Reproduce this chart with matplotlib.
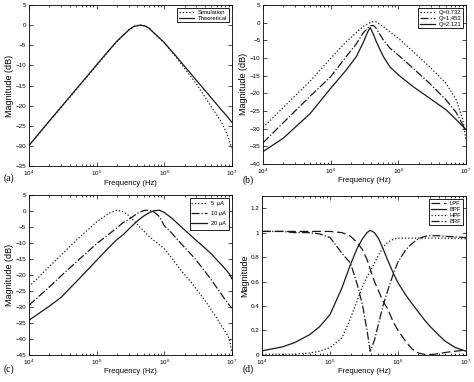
# Filter response comparison: four panels of magnitude vs frequency
import matplotlib
matplotlib.use('Agg')
import matplotlib.pyplot as plt

plt.rcParams['font.family'] = ['Liberation Sans', 'DejaVu Sans']
plt.rcParams['mathtext.fontset'] = 'custom'
plt.rcParams['mathtext.rm'] = 'Liberation Sans'
plt.rcParams['mathtext.it'] = 'Liberation Sans:italic'

# (a) simulation vs theory
freq_a = [1e4, 2e4, 3e4, 5e4, 1e5, 1.5e5, 2e5, 3e5, 3.6e5, 4.4e5, 5.2e5, 6e5,
          1e6, 1.5e6, 2e6, 3e6, 5e6, 7e6, 8.5e6, 1e7]
theory_a = [-29.9, -23.8, -20.3, -15.9, -9.9, -6.4, -4.0, -1.2, -0.3, 0.0, -0.2, -0.8,
            -4.3, -7.7, -10.2, -13.7, -18.1, -21.0, -22.6, -24.1]
sim_a = [-29.9, -23.9, -20.4, -16.0, -10.0, -6.5, -4.1, -1.2, -0.3, 0.0, -0.2, -0.8,
         -4.4, -7.9, -10.7, -14.6, -20.3, -24.0, -27.0, -30.5]

# (b) different Q
freq_b = [1e4, 2e4, 5e4, 1e5, 1.7e5, 2.4e5, 3e5, 3.55e5, 3.85e5, 4.3e5, 4.7e5, 6e5,
          7.5e5, 1e6, 1.65e6, 2.9e6, 5.1e6, 7.2e6, 9e6, 1e7]
q1_b = [-29.7, -24.0, -16.5, -10.1, -5.4, -2.8, -1.1, -0.3, 0.0, 0.3, 0.2, -1.1,
        -2.6, -4.4, -8.2, -12.5, -17.2, -21.9, -27.5, -33.2]
q2_b = [-34.0, -28.3, -20.8, -15.3, -9.6, -6.0, -3.0, -1.5, -0.9, -0.8, -1.6, -4.9,
        -7.2, -9.2, -12.9, -17.2, -21.9, -25.5, -29.0, -30.8]
q3_b = [-36.5, -32.7, -25.7, -18.6, -13.4, -9.6, -5.8, -2.5, -1.4, -3.4, -5.3, -9.6,
        -12.5, -14.8, -18.1, -21.4, -24.7, -27.5, -29.4, -30.2]
labels_b = ['Q=0.732', 'Q=1.453', 'Q=2.121']

# (c) different bias currents
freq_c = [1e4, 2e4, 3e4, 5e4, 1e5, 1.5e5, 2e5, 2.5e5, 3e5, 4e5, 5e5, 6e5, 7e5, 8.5e5,
          1e6, 1.3e6, 1.7e6, 2.5e6, 3e6, 4e6, 5e6, 6e6, 7e6, 8.5e6, 9.3e6, 1e7]
i5_c = [-23.7, -17.4, -13.8, -9.2, -3.5, -0.8, 0.2, -0.3, -1.5, -4.2, -6.3, -8.0, -9.2,
        -10.6, -11.8, -14.8, -18.1, -22.3, -24.5, -28.0, -31.0, -33.5, -35.8, -38.6,
        -40.2, -44.3]
i10_c = [-29.5, -23.8, -20.3, -16.0, -10.3, -7.4, -5.3, -3.6, -2.7, -0.8, 0.1, 0.2, -0.3,
         -1.8, -4.6, -7.0, -9.8, -13.6, -15.5, -18.9, -21.6, -24.0, -26.0, -28.6, -29.6,
         -30.4]
i20_c = [-34.2, -29.8, -27.0, -22.2, -15.5, -11.6, -9.0, -7.4, -5.7, -3.2, -1.6, -0.6,
         0.0, 0.2, -0.5, -2.3, -4.6, -7.8, -9.3, -11.6, -13.5, -15.3, -16.8, -18.8, -19.8,
         -21.2]
labels_c = [r'5  $\mu A$', r'10 $\mu A$', r'20 $\mu A$']

# (d) LPF / BPF / HPF / BRF outputs
freq_d = [1e4, 2e4, 3e4, 5e4, 7e4, 1e5, 1.5e5, 2e5, 2.5e5, 3e5, 3.5e5, 3.9e5, 4.5e5,
          5.2e5, 6e5, 7e5, 8.5e5, 1e6, 1.3e6, 1.6e6, 2e6, 2.5e6, 3e6, 4e6, 5e6, 7e6, 1e7]
lpf_d = [1.01, 1.01, 1.01, 1.01, 1.01, 1.01, 1.0, 0.97, 0.92, 0.86, 0.78, 0.70, 0.60,
         0.52, 0.44, 0.38, 0.27, 0.20, 0.11, 0.05, 0.015, 0.003, 0.002, 0.01, 0.02, 0.03, 0.04]
bpf_d = [0.033, 0.066, 0.10, 0.165, 0.23, 0.33, 0.55, 0.74, 0.87, 0.95, 1.0, 1.02, 1.0,
         0.95, 0.87, 0.78, 0.67, 0.59, 0.49, 0.42, 0.35, 0.28, 0.23, 0.16, 0.11, 0.06, 0.03]
hpf_d = [0.005, 0.005, 0.006, 0.015, 0.03, 0.06, 0.14, 0.30, 0.44, 0.56, 0.64, 0.68, 0.75,
         0.82, 0.88, 0.92, 0.945, 0.955, 0.955, 0.955, 0.955, 0.955, 0.955, 0.955, 0.955,
         0.953, 0.95]
brf_d = [1.01, 1.01, 1.0, 1.0, 0.99, 0.96, 0.83, 0.75, 0.58, 0.41, 0.20, 0.03, 0.12,
         0.26, 0.40, 0.52, 0.66, 0.76, 0.86, 0.91, 0.95, 0.97, 0.975, 0.975, 0.97, 0.965, 0.96]

ink = '#1a1a1a'
fig = plt.figure(figsize=(4.74, 3.82), dpi=100)

ax_a = fig.add_axes([0.061, 0.565, 0.428, 0.422])
ax_b = fig.add_axes([0.555, 0.571, 0.428, 0.416])
ax_c = fig.add_axes([0.061, 0.071, 0.428, 0.419])
ax_d = fig.add_axes([0.553, 0.071, 0.430, 0.416])


def style(ax, ylim, yticks, ylabel):
    ax.set_xscale('log')
    ax.set_xlim(1e4, 1e7)
    ax.set_ylim(*ylim)
    ax.set_yticks(yticks)
    ax.tick_params(which='both', direction='in', top=True, right=True,
                   labelsize=4.5, width=0.5, pad=2)
    ax.tick_params(which='major', length=3)
    ax.tick_params(which='minor', length=1.5)
    for s in ax.spines.values():
        s.set_linewidth(0.6)
    ax.set_xlabel('Frequency (Hz)', fontsize=5.5, labelpad=1)
    ax.set_ylabel(ylabel, fontsize=6.5, labelpad=1)


def legend(ax):
    leg = ax.legend(loc='upper right', fontsize=4.2, fancybox=False, edgecolor='black',
                    framealpha=1, handlelength=2.6, borderpad=0.3, labelspacing=0.15,
                    handletextpad=0.6, borderaxespad=0.5)
    leg.get_frame().set_linewidth(0.6)


lw = 0.9
ax_a.plot(freq_a, sim_a, ':', color=ink, lw=lw, label='Simulation')
ax_a.plot(freq_a, theory_a, '-', color=ink, lw=lw, label='Theoretical')
style(ax_a, (-35, 5), range(-35, 6, 5), 'Magnitude (dB)')
legend(ax_a)

ax_b.plot(freq_b, q1_b, ':', color=ink, lw=lw, label=labels_b[0])
ax_b.plot(freq_b, q2_b, '-.', color=ink, lw=lw, label=labels_b[1])
ax_b.plot(freq_b, q3_b, '-', color=ink, lw=lw, label=labels_b[2])
style(ax_b, (-40, 5), range(-40, 6, 5), 'Magnitude (dB)')
legend(ax_b)

ax_c.plot(freq_c, i5_c, ':', color=ink, lw=lw, label=labels_c[0])
ax_c.plot(freq_c, i10_c, '-.', color=ink, lw=lw, label=labels_c[1])
ax_c.plot(freq_c, i20_c, '-', color=ink, lw=lw, label=labels_c[2])
style(ax_c, (-45, 5), range(-45, 6, 5), 'Magnitude (dB)')
legend(ax_c)

ax_d.plot(freq_d, lpf_d, color=ink, lw=lw, dashes=(7, 3), label='LPF')
ax_d.plot(freq_d, bpf_d, '-', color=ink, lw=lw, label='BPF')
ax_d.plot(freq_d, hpf_d, ':', color=ink, lw=lw, label='HPF')
ax_d.plot(freq_d, brf_d, '-.', color=ink, lw=lw, label='BRF')
style(ax_d, (0, 1.3), [0, 0.2, 0.4, 0.6, 0.8, 1.0, 1.2], 'Magnitude')
ax_d.set_yticklabels(['0', '0.2', '0.4', '0.6', '0.8', '1', '1.2'])
legend(ax_d)

for txt, x, y in [('(a)', 0.008, 0.528), ('(b)', 0.512, 0.522),
                  ('(c)', 0.008, 0.026), ('(d)', 0.512, 0.026)]:
    fig.text(x, y, txt, fontsize=7, family='Liberation Serif')

fig.savefig('out.png', dpi=100)
